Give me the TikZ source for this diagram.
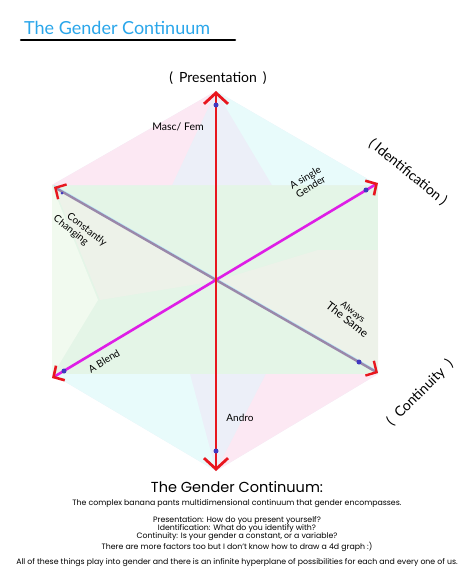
\documentclass[tikz,border=0pt]{standalone}
\usepackage{fontspec}
\setmainfont{Poppins}
\newfontfamily\handfont{Lato}
\usetikzlibrary{positioning,arrows.meta}
\definecolor{axisred}{HTML}{E8161E}
\definecolor{axismag}{HTML}{DE1EE6}
\definecolor{axisgray}{HTML}{9A88AA}
\definecolor{dotblue}{HTML}{4038C0}
\definecolor{titleblue}{HTML}{2AA6EA}
\definecolor{softpink}{HTML}{FCE8F3}
\definecolor{softcyan}{HTML}{E8FBFB}
\definecolor{softlav}{HTML}{ECEFF8}
\definecolor{softgreen}{HTML}{E4F5E7}
\definecolor{softbeige}{HTML}{EDF2E9}
\definecolor{softlime}{HTML}{F1FAEF}

\begin{document}
\begin{tikzpicture}[x=1pt,y=-1pt, node distance=1pt, every node/.style={inner sep=1pt},
  hand/.style={font=\handfont\fontsize{10}{10.5}\selectfont, align=center},
  axislabel/.style={font=\handfont\fontsize{14}{15}\selectfont},
  bigtip/.tip={Straight Barb[length=11pt,width=24pt,color=axisred]},
  smalltip/.tip={Straight Barb[length=8pt,width=17pt,color=axisred]},
  dot/.style={circle,fill=dotblue,inner sep=0pt,minimum size=5pt}]
\useasboundingbox (0,0) rectangle (474,571);

% hexagon corners
\coordinate (top) at (216,91);
\coordinate (bot) at (216,471);
\coordinate (ul) at (54,187);
\coordinate (lr) at (378,373);
\coordinate (ll) at (52,378);
\coordinate (ur) at (378,183);

% pastel shading
\fill[softgreen] (52,185) rectangle (378,374);
\fill[softlime] (52,186) -- (98,300) -- (52,376) -- cycle;
\fill[softbeige] (54,187) -- (216,281) -- (100,300) -- cycle;
\fill[softbeige] (378,373) -- (216,281) -- (318,250) -- (378,250) -- cycle;
\fill[softlav] (216,91) -- (52,185) -- (378,185) -- cycle;
\fill[softpink] (216,91) -- (52,185) -- (172,185) -- cycle;
\fill[softcyan] (216,91) -- (272,185) -- (378,185) -- cycle;
\fill[softlav] (216,471) -- (52,374) -- (378,374) -- cycle;
\fill[softcyan] (216,471) -- (52,374) -- (190,374) -- cycle;
\fill[softpink] (216,471) -- (266,374) -- (378,374) -- cycle;

% title
\node[anchor=west, font=\handfont\fontsize{18}{19}\selectfont, text=titleblue] (title) at (23,28) {The Gender Continuum};
\draw[line width=2.5pt, line cap=round] (21,40) coordinate (ulstart) -- (235,40) coordinate (ulend);

% axes
\draw[line width=1.2pt, cyan!30] ([yshift=1.4pt]ul) -- ([yshift=1.4pt]lr);
\draw[line width=2.4pt, axisgray, {smalltip}-{smalltip}] (ul) -- (lr);
\draw[line width=2.6pt, axismag, {smalltip}-{smalltip}] (ll) -- (ur);
\draw[line width=2.8pt, axisred, {bigtip}-{bigtip}] (top) -- (bot);

\node[dot] (d1) at (216,105) {};
\node[dot] (d2) at (216,451) {};
\node[dot] (d3) at (366,190) {};
\node[dot] (d4) at (64,371) {};
\node[dot] (d5) at (359,362) {};
\node[dot, minimum size=3pt] (d6) at (62,193) {};

% axis names
\node[axislabel] (pres) at (218,78) {(\, Presentation \,)};
\node[axislabel, rotate=-39] (ident) at (408,172) {( Identification )};
\node[axislabel, rotate=45] (cont) at (420,393) {(\; Continuity \;)};

% ends of the axes
\node[hand, font=\handfont\fontsize{10.5}{11}\selectfont] (masc) at (178,127) {Masc/ Fem};
\node[hand, rotate=31] (single) at (308,182) {A single\\Gender};
\node[hand, rotate=-38, align=left] (changing) at (80,231) {\hspace{9pt}Constantly\\Changing};
\node[hand, rotate=31] (blend) at (104,361) {A Blend};
\node[hand] (andro) at (240,418) {Andro};
\node[hand, rotate=-38] (same) at (350,316) {\fontsize{9}{10}\selectfont Always\\\fontsize{11.5}{12}\selectfont The Same};

% caption
\node[font=\fontsize{14.5}{16}\selectfont] (heading) at (237,487) {The Gender Continuum:};
\node[below=5pt of heading, align=center, font=\fontsize{7.8}{8}\selectfont] (blurb)
  {The complex banana pants multidimensional continuum that gender encompasses.\\[8pt]
   Presentation: How do you present yourself?\\
   Identification: What do you identify with?\\
   Continuity: Is your gender a constant, or a variable?\\
   There are more factors too but I don't know how to draw a 4d graph :)\\[6pt]
   All of these things play into gender and there is an infinite hyperplane of possibilities for each and every one of us.};
\end{tikzpicture}
\end{document}
